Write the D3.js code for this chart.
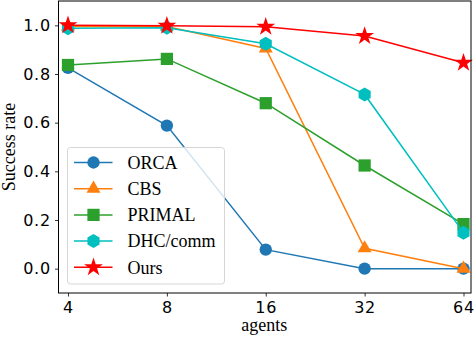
<!DOCTYPE html>
<html>
<head>
<meta charset="utf-8">
<script src="https://cdn.jsdelivr.net/npm/d3@7"></script>
<style>
  body { margin: 0; background: #fff; }
  svg { display: block; }
  .tick text { font-family: "DejaVu Sans", sans-serif; font-size: 16px; fill: #000; letter-spacing: 0.8px; }
  .lbl { font-family: "Liberation Serif", "Times New Roman", serif; font-size: 18px; fill: #000; }
</style>
</head>
<body>
<div id="chart"></div>
<script>

// ---- data ----
var agents = [4, 8, 16, 32, 64];
var yTicks = [0.0, 0.2, 0.4, 0.6, 0.8, 1.0];
var seriesNames = ['ORCA', 'CBS', 'PRIMAL', 'DHC/comm', 'Ours'];
var orca   = [0.825, 0.588, 0.078, 0.0, 0.0];
var cbs    = [0.995, 0.995, 0.905, 0.084, 0.0];
var primal = [0.837, 0.862, 0.680, 0.424, 0.183];
var dhc    = [0.988, 0.990, 0.924, 0.716, 0.148];
var ours   = [1.0, 0.998, 0.994, 0.956, 0.846];

var colors = ['#1f77b4', '#ff7f0e', '#2ca02c', '#00bfbf', '#ff0000'];
var shapes = ['circle', 'triangle', 'square', 'hexagon', 'star'];

var width = 474, height = 338;
var plotL = 58.5, plotR = 471, plotT = 1, plotB = 293;

var svg = d3.select('#chart').append('svg')
  .attr('width', width)
  .attr('height', height);

var x = d3.scaleLog().base(2)
  .domain([4, 64])
  .range([68, 463.5]);

var y = d3.scaleLinear()
  .domain([-0.1, 1.1])
  .range([plotB, plotT]);

// axes
svg.append('g')
  .attr('transform', 'translate(0,' + plotB + ')')
  .call(d3.axisBottom(x).tickValues(agents).tickFormat(d3.format('d')).tickSize(3.5).tickPadding(5))
  .call(function(g){ g.select('.domain').remove(); });

svg.append('g')
  .attr('transform', 'translate(' + plotL + ',0)')
  .call(d3.axisLeft(y).tickValues(yTicks).tickFormat(d3.format('.1f')).tickSize(3.5).tickPadding(4))
  .call(function(g){ g.select('.domain').remove(); });

svg.selectAll('.tick line').attr('stroke', '#000').attr('stroke-width', 0.8);

// series
function hexPath(r){
  var p = [];
  for(var i = 0; i < 6; i++){
    var a = Math.PI/2 + i*Math.PI/3;
    p.push([r*Math.cos(a), -r*Math.sin(a)]);
  }
  return 'M' + p.map(function(d){ return d.join(','); }).join('L') + 'Z';
}

function marker(shape){
  if(shape == 'circle') return d3.symbol(d3.symbolCircle, 120)();
  if(shape == 'triangle') return d3.symbol(d3.symbolTriangle, 85)();
  if(shape == 'square') return d3.symbol(d3.symbolSquare, 150)();
  if(shape == 'hexagon') return hexPath(7);
  return d3.symbol(d3.symbolStar, 110)();
}

var data = [orca, cbs, primal, dhc, ours];
var line = d3.line()
  .x(function(d, i){ return x(agents[i]); })
  .y(function(d){ return y(d); });

data.forEach(function(vals, si){
  var g = svg.append('g');
  g.append('path')
    .datum(vals)
    .attr('fill', 'none')
    .attr('stroke', colors[si])
    .attr('stroke-width', 1.5)
    .attr('d', line);
  g.selectAll('path.m')
    .data(vals)
    .enter().append('path')
      .attr('class', 'm')
      .attr('transform', function(d, i){ return 'translate(' + x(agents[i]) + ',' + y(d) + ')'; })
      .attr('fill', colors[si])
      .attr('d', marker(shapes[si]));
});

// frame
svg.append('rect')
  .attr('x', plotL).attr('y', plotT)
  .attr('width', plotR - plotL).attr('height', plotB - plotT)
  .attr('fill', 'none')
  .attr('stroke', '#000')
  .attr('stroke-width', 1);

// legend
var legend = svg.append('g').attr('transform', 'translate(67.5,147.5)');
legend.append('rect')
  .attr('width', 157).attr('height', 136.5)
  .attr('rx', 3)
  .attr('fill', '#fff').attr('fill-opacity', 0.8)
  .attr('stroke', '#d6d6d6');

seriesNames.forEach(function(name, i){
  var row = legend.append('g').attr('transform', 'translate(0,' + (15 + i*26.2) + ')');
  row.append('line')
    .attr('x1', 6.5).attr('x2', 45)
    .attr('stroke', colors[i]).attr('stroke-width', 1.5);
  row.append('path')
    .attr('transform', 'translate(26,0)')
    .attr('fill', colors[i])
    .attr('d', marker(shapes[i]));
  row.append('text')
    .attr('class', 'lbl')
    .attr('x', 60)
    .attr('dy', '0.35em')
    .text(name);
});

// axis labels
svg.append('text')
  .attr('class', 'lbl')
  .attr('text-anchor', 'middle')
  .attr('x', (plotL + plotR)/2 - 0.5)
  .attr('y', 331)
  .text('agents');

svg.append('text')
  .attr('class', 'lbl')
  .attr('text-anchor', 'middle')
  .attr('transform', 'translate(15,' + ((plotT + plotB)/2) + ') rotate(-90)')
  .text('Success rate');

</script>
</body>
</html>
